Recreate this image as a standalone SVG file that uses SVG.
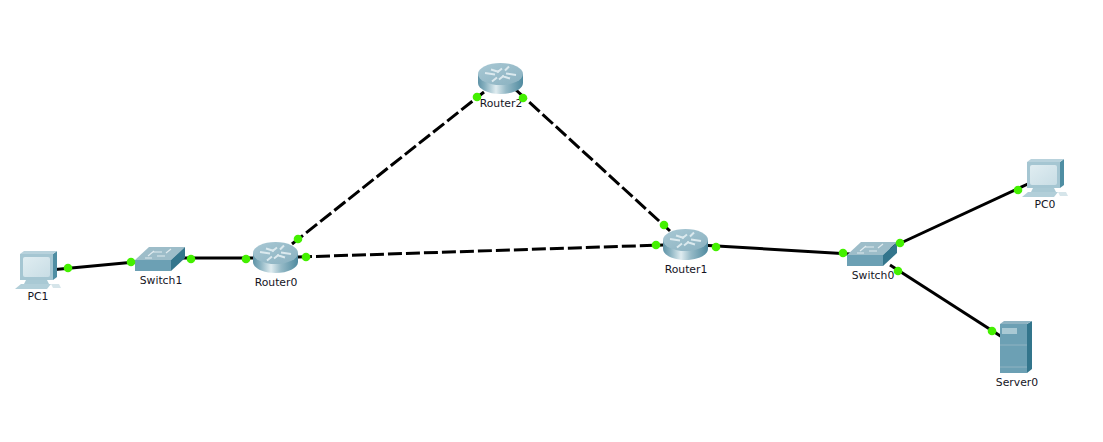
<svg xmlns="http://www.w3.org/2000/svg" width="1103" height="442" viewBox="0 0 1103 442">
<style>
.lnk{stroke:#000;stroke-width:3;fill:none}
.dash{stroke-dasharray:14 4}
.dot{fill:#44f000}
text{font-family:"DejaVu Sans","Liberation Sans",sans-serif;font-size:10.8px;fill:#14141e;text-anchor:middle}
</style>
<defs>
<linearGradient id="rb" x1="0" x2="1" y1="0" y2="0">
<stop offset="0" stop-color="#5f93a7"/><stop offset=".15" stop-color="#86b0bf"/><stop offset=".4" stop-color="#dfecf0"/><stop offset=".62" stop-color="#96bac7"/><stop offset="1" stop-color="#4f8a9f"/>
</linearGradient>
<linearGradient id="rt" x1="0" x2="1" y1="0" y2="1">
<stop offset="0" stop-color="#a8c8d4"/><stop offset="1" stop-color="#8ab1c0"/>
</linearGradient>
<linearGradient id="pcs" x1="0" x2="1" y1="0" y2="1">
<stop offset="0" stop-color="#e0edf1"/><stop offset="1" stop-color="#c8dde5"/>
</linearGradient>
<g id="router">
<path d="M0 11V20C0 26 10 31 22.500 31S45 26 45 20V11Z" fill="url(#rb)"/>
<ellipse cx="22.500" cy="11" rx="22.500" ry="11" fill="url(#rt)"/>
<path d="M7 10 17 11.500M13 6.500 21 9M38 12 28 10.500M32 15.500 24 13M21 16.500 26 12.500M14 18.500 19 14.500M24 5.500 19 9.500M31 3.500 27 7.500" stroke="#dbe9ee" stroke-width="2" fill="none"/>
</g>
<g id="switch">
<path d="M0 13 14 0H50L36 13Z" fill="#9dbdc9"/>
<path d="M0 13H36V24H0Z" fill="#6ca0b4"/>
<path d="M36 13 50 0V11L36 24Z" fill="#33758c"/>
<path d="M13 9 19 4M22 9H30M18 5H27M31 6 36 2M10 11H17" stroke="#e0ebef" stroke-width="1.200" fill="none"/>
</g>
<g id="pc">
<path d="M5 1H38V27H5Z" fill="#a5c6d2"/>
<path d="M38 1 42 -2V24L38 27Z" fill="#4f8ea3"/>
<path d="M5 1 9 -2H42L38 1Z" fill="#b8d2dc"/>
<rect x="8" y="4" width="27" height="20" rx="2" fill="url(#pcs)"/>
<path d="M11 27H32L34 31H9Z" fill="#a9c9d4"/>
<path d="M6 31H36L32 36H0Z" fill="#b2cfd9"/>
<path d="M36 31H44L46 35H38ZM40 35 43 37" fill="#d6e5ea"/>
</g>
<g id="server">
<path d="M0 3H27V52H0Z" fill="#6ca0b4"/>
<path d="M27 3 32 0V48L27 52Z" fill="#33758c"/>
<path d="M0 3 4 0H32L27 3Z" fill="#8fb3c2"/>
<rect x="2" y="7" width="15" height="6" fill="#a9c9d4"/>
<path d="M0 24H27M0 46H27" stroke="#8fb3c2" stroke-width="1" fill="none"/>
</g>
</defs>
<rect width="1103" height="442" fill="#fff"/>
<g id="connectors">
<path class="lnk" d="M50 270 135 262"/>
<path class="lnk" d="M180 258H253"/>
<path class="lnk dash" d="M292 244 484 92"/>
<path class="lnk dash" d="M298 257 663 245"/>
<path class="lnk dash" d="M516 90 670 231"/>
<path class="lnk" d="M700 245 850 254"/>
<path class="lnk" d="M890 248 1030 183"/>
<path class="lnk" d="M890 265 1002 337"/>
</g>
<g id="PC1"><use href="#pc" x="15" y="253"/><text x="38" y="300">PC1</text></g>
<g id="Switch1"><use href="#switch" x="135" y="247"/><text x="161" y="284">Switch1</text></g>
<g id="Router0"><use href="#router" x="253" y="242"/><text x="276" y="286">Router0</text></g>
<g id="Router1"><use href="#router" x="663" y="229"/><text x="686" y="273">Router1</text></g>
<g id="Router2"><use href="#router" x="478" y="63"/><text x="501" y="107">Router2</text></g>
<g id="Switch0"><use href="#switch" x="847" y="242"/><text x="873" y="279">Switch0</text></g>
<g id="PC0"><use href="#pc" x="1022" y="161"/><text x="1045" y="208">PC0</text></g>
<g id="Server0"><use href="#server" x="1000" y="321"/><text x="1017" y="386">Server0</text></g>
<g id="ports">
<circle class="dot" cx="68" cy="268" r="4.300"/><circle class="dot" cx="131" cy="262" r="4.300"/>
<circle class="dot" cx="191" cy="259" r="4.300"/><circle class="dot" cx="246" cy="259" r="4.300"/>
<circle class="dot" cx="298" cy="239" r="4.300"/><circle class="dot" cx="477" cy="97" r="4.300"/>
<circle class="dot" cx="306" cy="257" r="4.300"/><circle class="dot" cx="656" cy="245" r="4.300"/>
<circle class="dot" cx="523" cy="98" r="4.300"/><circle class="dot" cx="664" cy="225" r="4.300"/>
<circle class="dot" cx="716" cy="247" r="4.300"/><circle class="dot" cx="843" cy="253" r="4.300"/>
<circle class="dot" cx="900" cy="243" r="4.300"/><circle class="dot" cx="1018" cy="190" r="4.300"/>
<circle class="dot" cx="898" cy="271" r="4.300"/><circle class="dot" cx="992" cy="331" r="4.300"/>
</g>
</svg>
